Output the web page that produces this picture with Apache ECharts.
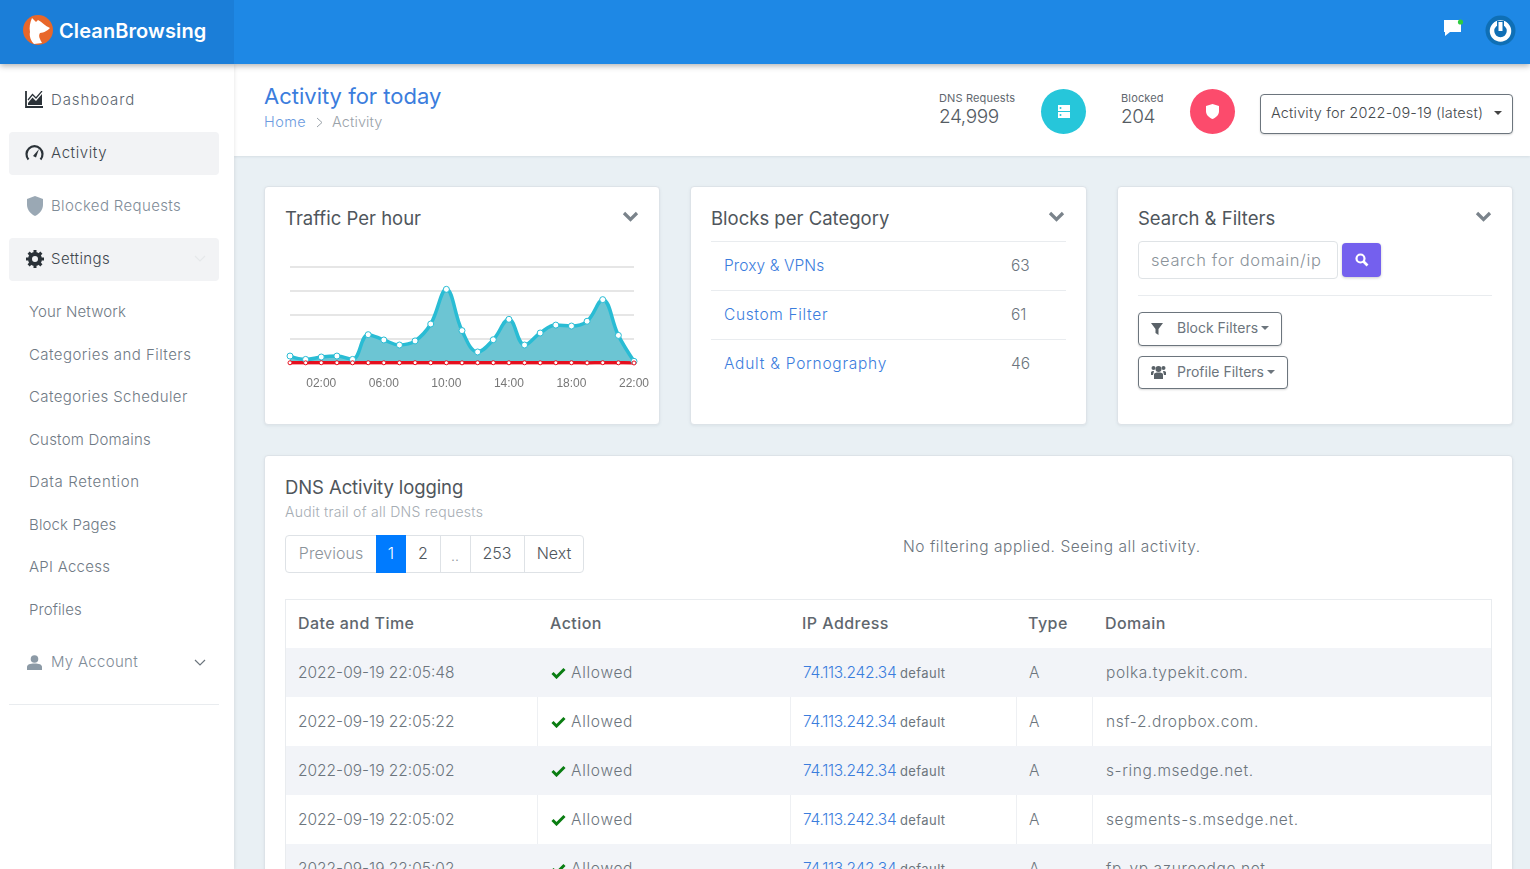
<!DOCTYPE html>
<html lang="en">
<head>
<meta charset="UTF-8" />
<title>CleanBrowsing Activity</title>
<script src="https://cdn.jsdelivr.net/npm/echarts@6/dist/echarts.min.js"></script>
<style>
  html, body { margin: 0; padding: 0; }
  body { width: 1530px; height: 869px; overflow: hidden; position: relative; background: #e9f0f4;
    font-family: Inter, "Open Sans", sans-serif; font-weight: 300; color: #5f676e; }
  .box { position: absolute; box-sizing: border-box; }
  .t { position: absolute; white-space: nowrap; line-height: 1; transform: translateY(-50%); }
  .c { transform: translate(-50%, -50%); }
  .card { background: #fff; border: 1px solid #dde3e8; border-radius: 4px; box-shadow: 0 1px 3px rgba(90,110,130,.10); }
  .nav { font-size: 15px; color: #5c6670; letter-spacing: .45px; }
  .sub { font-size: 15px; color: #6f7a85; letter-spacing: .4px; }
  .title { font-size: 18.500px; color: #4f565c; font-weight: 400; letter-spacing: 0; }
  .hr { position: absolute; height: 1px; background: #e9ecef; }
  .link { color: #3b7ddd; }
  .btn { background: #fff; border: 1px solid #6c757d; border-radius: 4px; box-shadow: 0 1px 2px rgba(0,0,0,.15); }
  .caret { position: absolute; width: 0; height: 0; border-left: 4px solid transparent; border-right: 4px solid transparent; border-top: 4px solid #444; }
  svg { position: absolute; }
  #chart { position: absolute; left: 265px; top: 245px; width: 394px; height: 155px; }
</style>
</head>
<body>
  <!-- top bar -->
  <div class="box" style="left:0;top:0;width:1530px;height:64px;background:#1e88e5;box-shadow:0 2px 6px rgba(0,0,0,.3);z-index:3"></div>
  <div class="box" style="left:0;top:0;width:234px;height:64px;background:#1b7ed8;z-index:3"></div>
  <div style="position:absolute;left:0;top:0;z-index:4">
    <svg style="left:23px;top:15px" width="30" height="30" viewBox="0 0 30 30"><circle cx="15" cy="15" r="15" fill="#e8672a"/><path d="M9 3 C7 8 6 12 7 17 C6 21 8 26 11 29 L19 28 C17 24 15 21 17 18 C21 18 25 15 27 13 C22 11 19 7 15 5 L13 7 Z" fill="#fff"/></svg>
    <div class="t" style="left:59px;top:31px;font-size:20px;font-weight:600;color:#fff;letter-spacing:.1px">CleanBrowsing</div>
    <svg style="left:1444px;top:19px" width="20" height="18" viewBox="0 0 20 18"><path d="M0 1h17v12H6l-5 4 0-4H0z" fill="#fff"/><circle cx="16.500" cy="3" r="2.600" fill="#2ecc40"/></svg>
    <svg style="left:1485px;top:15px" width="31" height="31" viewBox="0 0 31 31"><circle cx="15.500" cy="15.500" r="15" fill="#0f6fb5"/><circle cx="15.500" cy="16" r="8.500" fill="none" stroke="#fff" stroke-width="4.500"/><path d="M15.500 6v10" stroke="#0f6fb5" stroke-width="7"/><path d="M15.500 7v9" stroke="#fff" stroke-width="4"/></svg>
  </div>

  <!-- sidebar -->
  <div class="box" style="left:0;top:64px;width:234px;height:805px;background:#fff;box-shadow:1px 0 3px rgba(0,0,0,.08);z-index:2">
    <div class="box" style="left:9px;top:68px;width:210px;height:43px;background:#f2f3f5;border-radius:4px"></div>
    <div class="box" style="left:9px;top:174px;width:210px;height:43px;background:#f2f3f5;border-radius:4px"></div>
    <div class="hr" style="left:9px;top:640px;width:210px"></div>
    <svg style="left:25px;top:27px" width="19" height="17" viewBox="0 0 19 17"><path d="M1 0v16h17" fill="none" stroke="#2b3238" stroke-width="1.800"/><path d="M3 14 L3 12 L7.500 6.500 L11 10 L17 3 V14 Z" fill="#2b3238"/><path d="M3 9 L7.500 3.500 L11 7 L17 0" fill="none" stroke="#2b3238" stroke-width="1.200"/></svg>
    <svg style="left:25px;top:80px" width="19" height="17" viewBox="0 0 19 17"><path d="M3.500 15.500 A8 8 0 1 1 15.500 15.500" fill="none" stroke="#2b3238" stroke-width="2.200"/><path d="M8 12 L14 5 L11 13.500 Z" fill="#2b3238"/></svg>
    <svg style="left:26px;top:132px" width="18" height="20" viewBox="0 0 18 20"><path d="M9 0 L17 3 V9 C17 14 13 18 9 20 C5 18 1 14 1 9 V3 Z" fill="#9aa8b4"/></svg>
    <svg style="left:26px;top:186px" width="18" height="18" viewBox="0 0 18 18"><circle cx="9" cy="9" r="5" fill="none" stroke="#2b3238" stroke-width="4"/><path d="M9 0v4M9 14v4M0 9h4M14 9h4M2.600 2.600l3 3M12.400 12.400l3 3M15.400 2.600l-3 3M5.600 12.400l-3 3" stroke="#2b3238" stroke-width="3"/></svg>
    <svg style="left:27px;top:591px" width="15" height="15" viewBox="0 0 15 15"><circle cx="7.500" cy="4" r="3.800" fill="#8c9aa6"/><path d="M0 15 V12 C0 9.500 3 8.500 7.500 8.500 S15 9.500 15 12 V15 Z" fill="#8c9aa6"/></svg>
    <svg style="left:194px;top:595px" width="12" height="8" viewBox="0 0 12 8"><path d="M1 1l5 5 5-5" fill="none" stroke="#6c757d" stroke-width="1.200"/></svg>
    <svg style="left:194px;top:191px" width="12" height="8" viewBox="0 0 12 8"><path d="M1 1l5 5 5-5" fill="none" stroke="#e6e8ea" stroke-width="1.200"/></svg>
    <div class="t nav" style="left:51px;top:35px;letter-spacing:.9px">Dashboard</div>
    <div class="t nav" style="left:51px;top:88px;color:#3f474e;letter-spacing:.6px">Activity</div>
    <div class="t nav" style="left:51px;top:141px;color:#7f8c98;letter-spacing:.35px">Blocked Requests</div>
    <div class="t nav" style="left:51px;top:194px;color:#3f474e;letter-spacing:.4px">Settings</div>
    <div class="t sub" style="left:29px;top:247px;letter-spacing:.15px">Your Network</div>
    <div class="t sub" style="left:29px;top:290px;letter-spacing:.45px">Categories and Filters</div>
    <div class="t sub" style="left:29px;top:332px">Categories Scheduler</div>
    <div class="t sub" style="left:29px;top:375px;letter-spacing:.2px">Custom Domains</div>
    <div class="t sub" style="left:29px;top:417px;letter-spacing:.65px">Data Retention</div>
    <div class="t sub" style="left:29px;top:460px;letter-spacing:.15px">Block Pages</div>
    <div class="t sub" style="left:29px;top:502px;letter-spacing:.25px">API Access</div>
    <div class="t sub" style="left:29px;top:545px;letter-spacing:.1px">Profiles</div>
    <div class="t nav" style="left:51px;top:597px;color:#7f8c98;letter-spacing:.3px">My Account</div>
  </div>

  <!-- page header -->
  <div class="box" style="left:234px;top:64px;width:1296px;height:92px;background:#fff;box-shadow:0 1px 2px rgba(90,110,130,.12)"></div>
  <div class="t link" style="left:264px;top:96px;font-size:22px;font-weight:400">Activity for today</div>
  <div class="t link" style="left:264px;top:122px;font-size:14.500px;color:#6c9be0;letter-spacing:.4px">Home</div>
  <svg style="left:316px;top:117px" width="8" height="11" viewBox="0 0 8 11"><path d="M1 1l5 4.500-5 4.500" fill="none" stroke="#9aa2a9" stroke-width="1"/></svg>
  <div class="t" style="left:332px;top:122px;font-size:14.500px;color:#9aa2a9;letter-spacing:.1px">Activity</div>

  <div class="t" style="left:939px;top:98px;font-size:11px;color:#5f676e;font-weight:400;letter-spacing:.15px">DNS Requests</div>
  <div class="t" style="left:939px;top:116px;font-size:19px;color:#555c63;letter-spacing:-.4px" id="dnsTotal"></div>
  <div class="box" style="left:1041px;top:89px;width:45px;height:45px;border-radius:50%;background:#26c6da"></div>
  <svg style="left:1057px;top:105px" width="14" height="13" viewBox="0 0 14 13"><path d="M1 0h12v6H1zM1 7h12v6H1z" fill="#fff"/><circle cx="3.500" cy="3" r="1" fill="#26c6da"/><circle cx="3.500" cy="10" r="1" fill="#26c6da"/></svg>
  <div class="t" style="left:1121px;top:98px;font-size:11px;color:#5f676e;font-weight:400;letter-spacing:.15px">Blocked</div>
  <div class="t" style="left:1121px;top:116px;font-size:19px;color:#555c63;letter-spacing:-.4px" id="blockedTotal"></div>
  <div class="box" style="left:1190px;top:89px;width:45px;height:45px;border-radius:50%;background:#fc4b6c"></div>
  <svg style="left:1206px;top:104px" width="13" height="15" viewBox="0 0 13 15"><path d="M6.500 0 L13 2 V7 C13 11 10 13.500 6.500 15 C3 13.500 0 11 0 7 V2 Z" fill="#fff"/></svg>
  <div class="box btn" style="left:1260px;top:94px;width:253px;height:40px"></div>
  <div class="t" style="left:1271px;top:113px;font-size:14.500px;color:#45494d;font-weight:300;letter-spacing:.16px">Activity for 2022-09-19 (latest)</div>
  <div class="caret" style="left:1494px;top:111px"></div>

  <!-- traffic card -->
  <div class="box card" style="left:264px;top:186px;width:396px;height:239px"></div>
  <div class="t title" style="left:285px;top:218px">Traffic Per hour</div>
  <svg style="left:622px;top:211px" width="17" height="11" viewBox="0 0 17 11"><path d="M2 2l6.500 6.500L15 2" fill="none" stroke="#7a838b" stroke-width="3.200"/></svg>
  <div id="chart"></div>

  <!-- blocks card -->
  <div class="box card" style="left:690px;top:186px;width:397px;height:239px"></div>
  <div class="t title" style="left:711px;top:218px">Blocks per Category</div>
  <svg style="left:1048px;top:211px" width="17" height="11" viewBox="0 0 17 11"><path d="M2 2l6.500 6.500L15 2" fill="none" stroke="#7a838b" stroke-width="3.200"/></svg>
  <div class="hr" style="left:711px;top:241px;width:355px"></div>
  <div class="hr" style="left:711px;top:290px;width:355px"></div>
  <div class="hr" style="left:711px;top:339px;width:355px"></div>
  <div id="cats"></div>

  <!-- search card -->
  <div class="box card" style="left:1117px;top:186px;width:396px;height:239px"></div>
  <div class="t title" style="left:1138px;top:218px">Search &amp; Filters</div>
  <svg style="left:1475px;top:211px" width="17" height="11" viewBox="0 0 17 11"><path d="M2 2l6.500 6.500L15 2" fill="none" stroke="#7a838b" stroke-width="3.200"/></svg>
  <div class="box" style="left:1138px;top:241px;width:200px;height:38px;border:1px solid #dfe3e6;border-radius:4px"></div>
  <div class="t" style="left:1151px;top:260px;font-size:16.500px;color:#8b939a;letter-spacing:.6px">search for domain/ip</div>
  <div class="box" style="left:1342px;top:243px;width:39px;height:34px;background:#7460ee;border-radius:4px;box-shadow:0 1px 3px rgba(0,0,0,.2)"></div>
  <svg style="left:1355px;top:253px" width="14" height="14" viewBox="0 0 14 14"><circle cx="5.500" cy="5.500" r="4" fill="none" stroke="#fff" stroke-width="2.200"/><path d="M8.500 8.500l4 4" stroke="#fff" stroke-width="2.600"/></svg>
  <div class="hr" style="left:1138px;top:295px;width:354px"></div>
  <div class="box btn" style="left:1138px;top:312px;width:144px;height:34px"></div>
  <svg style="left:1151px;top:323px" width="12" height="12" viewBox="0 0 12 12"><path d="M0 0h12L7.500 6v6L4.500 10V6z" fill="#5a6268"/></svg>
  <div class="t" style="left:1177px;top:328px;font-size:14px;color:#6c757d;font-weight:400">Block Filters</div>
  <div class="caret" style="left:1261px;top:326px;border-top-color:#6c757d"></div>
  <div class="box btn" style="left:1138px;top:356px;width:150px;height:33px"></div>
  <svg style="left:1151px;top:365px" width="15" height="14" viewBox="0 0 15 14"><circle cx="7.500" cy="4" r="3" fill="#5a6268"/><circle cx="2.500" cy="3" r="2" fill="#5a6268"/><circle cx="12.500" cy="3" r="2" fill="#5a6268"/><path d="M3 14V9.500C3 8 5 7.500 7.500 7.500S12 8 12 9.500V14zM0 10V7.500C0 6.500 1 6 3 6L2 10zM15 10V7.500C15 6.500 14 6 12 6L13 10z" fill="#5a6268"/></svg>
  <div class="t" style="left:1177px;top:372px;font-size:14px;color:#6c757d;font-weight:400">Profile Filters</div>
  <div class="caret" style="left:1267px;top:370px;border-top-color:#6c757d"></div>

  <!-- log card -->
  <div class="box card" style="left:264px;top:455px;width:1249px;height:460px"></div>
  <div class="t title" style="left:285px;top:487px;letter-spacing:-.1px">DNS Activity logging</div>
  <div class="t" style="left:285px;top:512px;font-size:14px;color:#a6adb4;letter-spacing:.27px">Audit trail of all DNS requests</div>
  <div class="box" style="left:285px;top:535px;width:299px;height:38px;border:1px solid #dee2e6;border-radius:4px"></div>
  <div class="box" style="left:376px;top:535px;width:30px;height:38px;background:#007bff"></div>
  <div class="box" style="left:440px;top:535px;width:1px;height:38px;background:#dee2e6"></div>
  <div class="box" style="left:470px;top:535px;width:1px;height:38px;background:#dee2e6"></div>
  <div class="box" style="left:524px;top:535px;width:1px;height:38px;background:#dee2e6"></div>
  <div class="t c" style="left:331px;top:553px;font-size:16px;color:#8b939a">Previous</div>
  <div class="t c" style="left:391px;top:553px;font-size:16px;color:#fff">1</div>
  <div class="t c" style="left:423px;top:553px;font-size:16px;color:#4f565c">2</div>
  <div class="t c" style="left:455px;top:556px;font-size:14px;color:#8b939a">..</div>
  <div class="t c" style="left:497px;top:553px;font-size:16px;color:#4f565c">253</div>
  <div class="t c" style="left:554px;top:553px;font-size:16px;color:#4f565c">Next</div>
  <div class="t" style="left:903px;top:547px;font-size:15.500px;color:#6c757d;letter-spacing:.55px">No filtering applied. Seeing all activity.</div>

  <!-- table, rows are filled in below -->
  <div class="box" id="logTable" style="left:285px;top:599px;width:1207px;height:270px;overflow:hidden;border:1px solid #e9ecef;border-bottom:0"></div>

<script>
  // hourly traffic
  var hours = ["00:00","01:00","02:00","03:00","04:00","05:00","06:00","07:00","08:00","09:00","10:00","11:00","12:00","13:00","14:00","15:00","16:00","17:00","18:00","19:00","20:00","21:00","22:00"];
  var requests = [290,150,250,290,150,1180,960,750,920,1625,3070,1350,460,970,1820,750,1250,1580,1540,1740,2640,1150,70];
  var blocked = [9,7,11,10,8,10,9,8,12,10,9,6,11,12,9,8,7,10,11,5,13,8,1];

  var categories = ["Proxy & VPNs","Custom Filter","Adult & Pornography"];
  var categoryCounts = [63,61,46];

  var dnsTotal = "24,999";
  var blockedTotal = "204";

  var logHeaders = ["Date and Time","Action","IP Address","Type","Domain"];
  var logTimes = ["2022-09-19 22:05:48","2022-09-19 22:05:22","2022-09-19 22:05:02","2022-09-19 22:05:02","2022-09-19 22:05:02"];
  var logDomains = ["polka.typekit.com.","nsf-2.dropbox.com.","s-ring.msedge.net.","segments-s.msedge.net.","fp-vp.azureedge.net"];

  document.getElementById("dnsTotal").textContent = dnsTotal;
  document.getElementById("blockedTotal").textContent = blockedTotal;

  // category list
  var catHtml = "";
  var catTops = [266, 315, 364];
  var catSpacing = [0.1, 0.65, 0.75];
  categories.forEach(function(name, i) {
    catHtml += '<div class="t link" style="left:724px;top:' + catTops[i] + 'px;font-size:15.500px;letter-spacing:' + catSpacing[i] + 'px">' + name.replace("&", "&amp;") + "</div>";
    catHtml += '<div class="t" style="left:1011px;top:' + catTops[i] + 'px;font-size:15.500px;color:#6c757d">' + categoryCounts[i] + "</div>";
  });
  document.getElementById("cats").innerHTML = catHtml;

  // log table
  var colLeft = [12, 264, 516, 742, 819];
  var sepLeft = [251, 504, 730, 806];
  var html = "";
  logHeaders.forEach(function(h, i) {
    html += '<div class="t" style="left:' + colLeft[i] + 'px;top:23px;font-size:16px;font-weight:500;color:#5f676e;letter-spacing:.45px">' + h + "</div>";
  });
  logTimes.forEach(function(time, r) {
    var top = 48 + r * 49;
    var mid = top + 25;
    if (r % 2 == 0) {
      html += '<div class="box" style="left:0;top:' + top + 'px;width:1207px;height:49px;background:#f2f4f8"></div>';
    } else {
      sepLeft.forEach(function(x) {
        html += '<div class="box" style="left:' + x + 'px;top:' + top + 'px;width:1px;height:49px;background:#eef0f3"></div>';
      });
    }
    html += '<div class="t" style="left:12px;top:' + mid + 'px;font-size:15.500px;color:#6c757d">' + time + "</div>";
    html += '<svg style="left:265px;top:' + (mid - 6) + 'px" width="15" height="12" viewBox="0 0 15 12"><path d="M1.500 6l4 4 8-8" fill="none" stroke="#0a7d12" stroke-width="3"/></svg>';
    html += '<div class="t" style="left:285px;top:' + mid + 'px;font-size:15.500px;color:#6c757d;letter-spacing:.7px">Allowed</div>';
    html += '<div class="t link" style="left:517px;top:' + mid + 'px;font-size:15.500px;letter-spacing:-.3px">74.113.242.34</div>';
    html += '<div class="t" style="left:614px;top:' + mid + 'px;font-size:13px;color:#6c757d;font-weight:400;letter-spacing:.4px">default</div>';
    html += '<div class="t" style="left:820px;top:' + mid + 'px;font-size:15.500px;color:#6c757d;letter-spacing:.6px">' + logDomains[r] + "</div>";
    html += '<div class="t" style="left:743px;top:' + mid + 'px;font-size:15.500px;color:#6c757d">A</div>';
  });
  document.getElementById("logTable").innerHTML = html;

  var myChart = echarts.init(document.getElementById("chart"));
  var option = {
    animation: false,
    grid: { left: 25, right: 25, top: 22, bottom: 37 },
    xAxis: {
      type: "category",
      data: hours,
      boundaryGap: false,
      axisLine: { show: false },
      axisTick: { show: false },
      axisLabel: {
        interval: function(i) { return (i - 2) % 4 == 0; }, // every 4 hours from 02:00
        color: "#777",
        fontSize: 12,
        fontFamily: "Liberation Sans",
        margin: 15
      }
    },
    yAxis: {
      type: "value",
      min: 0,
      max: 4000,
      interval: 1000,
      axisLine: { show: false },
      axisTick: { show: false },
      axisLabel: { show: false },
      splitLine: { lineStyle: { color: "#e6e6e6", width: 2 } }
    },
    series: [
      {
        name: "Requests",
        type: "line",
        data: requests,
        smooth: 0.4,
        symbol: "circle",
        symbolSize: 6,
        showAllSymbol: true,
        lineStyle: { color: "#29bcd4", width: 3.5 },
        itemStyle: { color: "#fff", borderColor: "#29bcd4", borderWidth: 1 },
        areaStyle: { color: "#6cc5d3", opacity: 1 }
      },
      {
        name: "Blocked",
        type: "line",
        data: blocked,
        smooth: 0.4,
        symbol: "circle",
        symbolSize: 4,
        showAllSymbol: true,
        z: 3,
        lineStyle: { color: "#e60f1e", width: 3.5 },
        itemStyle: { color: "#fff", borderColor: "#e60f1e", borderWidth: 1 }
      }
    ]
  };
  myChart.setOption(option);
</script>
</body>
</html>
